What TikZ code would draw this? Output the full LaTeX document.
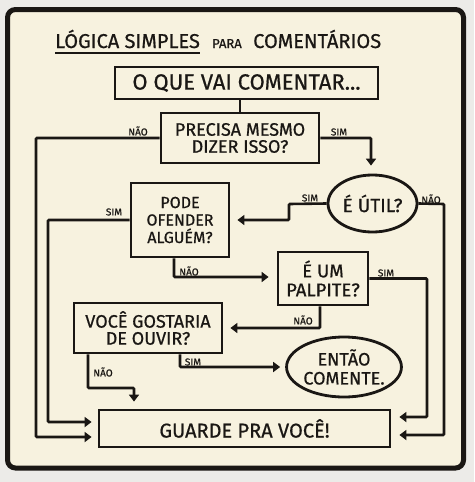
\documentclass[tikz,border=0pt]{standalone}
\usepackage{fontspec}
\setmainfont{Fira Sans}[FakeBold=0.7]
\usetikzlibrary{shapes.geometric,calc,arrows.meta}
\definecolor{paper}{HTML}{F7F2DF}
\definecolor{paperedge}{HTML}{C9B47C}
\definecolor{ink}{HTML}{1A1714}
\definecolor{outside}{HTML}{ECEBE8}
\pgfdeclareradialshading{vign}{\pgfpoint{0bp}{0bp}}{color(0bp)=(paper); color(31bp)=(paper); color(48bp)=(paperedge); color(50bp)=(paperedge)}
\tikzset{
  box/.style={draw=ink,line width=2.8pt,align=center,font=\fontsize{18}{17}\selectfont,text=ink,inner sep=0pt},
  oval/.style={box,ellipse},
  conn/.style={draw=ink,line width=2.6pt,rounded corners=1pt},
  arr/.style={conn,-{Triangle[width=10pt,length=7pt]}},
  lbl/.style={font=\fontsize{10}{10}\selectfont,text=ink,inner sep=0pt},
}
\begin{document}
\begin{tikzpicture}[x=1pt,y=-1pt]
\useasboundingbox (0,0) rectangle (474,482);
\fill[outside] (0,0) rectangle (474,482);
\begin{scope}
\clip[rounded corners=8pt] (7.5,9.5) rectangle (463.5,468);
\shade[shading=vign] (-84.5,-81.25) rectangle (555.5,558.75);
\end{scope}
\draw[ink,line width=5pt,rounded corners=8pt] (7.5,9.5) rectangle (463.5,468);
% title
\node[anchor=base west,inner sep=0pt,text=ink,font=\fontsize{20}{20}\selectfont] (t1) at (55,48) {LÓGICA SIMPLES};
\draw[ink,line width=2pt] ($(t1.base west)+(0,5)$) -- ($(t1.base east)+(0,5)$);
\node[anchor=base west,inner sep=0pt,text=ink,font=\fontsize{13}{13}\selectfont] (t2) at (212,48) {PARA};
\node[anchor=base west,inner sep=0pt,text=ink,font=\fontsize{20}{20}\selectfont] (t3) at (253,48) {COMENTÁRIOS};
% boxes
\node[box,minimum width=263pt,minimum height=32pt,font=\fontsize{22}{22}\selectfont] (top) at (246.5,83) {O QUE VAI COMENTAR...};
\node[box,minimum width=158pt,minimum height=50pt] (precisa) at (240,138) {PRECISA MESMO\\DIZER ISSO?};
\node[oval,minimum width=89pt,minimum height=57pt,font=\fontsize{19}{19}\selectfont] (util) at (372.5,203.5) {É ÚTIL?};
\node[box,minimum width=98pt,minimum height=74pt,font=\fontsize{16}{17.5}\selectfont] (pode) at (180,220) {PODE\\OFENDER\\ALGUÉM?};
\node[box,minimum width=90pt,minimum height=53pt,font=\fontsize{18.5}{19}\selectfont] (palpite) at (323,278.5) {É UM\\PALPITE?};
\node[box,minimum width=148pt,minimum height=50pt] (voce) at (148,328) {VOCÊ GOSTARIA\\DE OUVIR?};
\node[oval,minimum width=98pt,minimum height=60pt,font=\fontsize{18}{19}\selectfont] (entao) at (344,367) {ENTÃO\\COMENTE.};
\node[box,minimum width=291pt,minimum height=37pt,font=\fontsize{20}{20}\selectfont] (guarde) at (244.5,428.5) {GUARDE PRA VOCÊ!};
% bend coordinates
\coordinate (c1) at (36,138);
\coordinate (c2) at (371,138);
\coordinate (c3) at (289,204);
\coordinate (c4) at (48,220);
\coordinate (c5) at (444,204);
\coordinate (c6) at (427,278.5);
\coordinate (c7) at (174,277);
\coordinate (c8) at (320,328);
\coordinate (c9) at (88,388);
\coordinate (c10) at (134,388);
\coordinate (c11) at (180,367);
% connectors
\draw[conn] (precisa.north) -- (precisa.north |- top.south);
\draw[arr,shorten >=8pt] (precisa.east) -- (c2) -- (c2 |- util.north);
\draw[arr,shorten >=6pt] (precisa.west) -- (c1) |- ($(guarde.west)+(0,8.5)$);
\draw[arr,shorten >=7pt] (util.west) -- (c3) |- (pode.east);
\draw[arr,shorten >=6pt] (pode.west) -- (c4) |- ($(guarde.west)+(0,-6.5)$);
\draw[arr,shorten >=8pt] (util.east) -- (c5) |- ($(guarde.east)+(0,6.5)$);
\draw[arr,shorten >=8pt] (palpite.east) -- (c6) |- ($(guarde.east)+(0,-11.5)$);
\draw[arr,shorten >=8pt] (c7 |- pode.south) -- (c7) -- (c7 -| palpite.west);
\draw[arr,shorten >=7pt] (c8 |- palpite.south) -- (c8) -- (voce.east);
\draw[arr,shorten >=7pt] (c9 |- voce.south) -- (c9) -- (c10) -- (c10 |- guarde.north);
\draw[arr,shorten >=5pt] (c11 |- voce.south) -- (c11) -- (c11 -| entao.west);
% labels
\node[lbl] (l1) at (138,131) {NÃO};
\node[lbl] (l2) at (339,132) {SIM};
\node[lbl] (l3) at (310,198) {SIM};
\node[lbl] (l4) at (431,199) {NÃO};
\node[lbl] (l5) at (114,212) {SIM};
\node[lbl] (l6) at (189,271) {NÃO};
\node[lbl] (l7) at (386,273) {SIM};
\node[lbl] (l8) at (303,320) {NÃO};
\node[lbl] (l9) at (103,372) {NÃO};
\node[lbl] (l10) at (193,362) {SIM};
\end{tikzpicture}
\end{document}
